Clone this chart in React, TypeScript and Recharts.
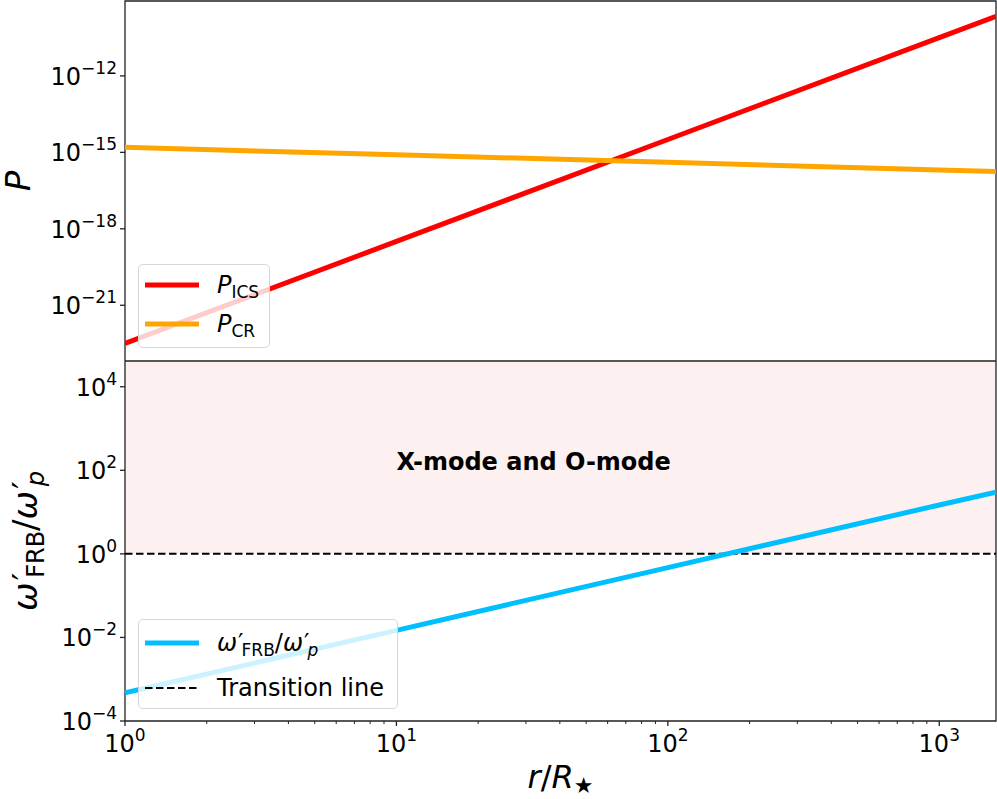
import React from "react";
import {
  LineChart,
  Line,
  XAxis,
  YAxis,
  ReferenceArea,
  ReferenceLine,
  ReferenceDot,
  Legend,
} from "recharts";

// ── Data ──────────────────────────────────────────────────────────────────────

const R = [1, 10, 100, 1000, 1618];
const P_ICS = [3.2e-23, 3.2e-19, 3.2e-15, 3.2e-11, 2.2e-10];
const P_CR = [1.58e-15, 8.0e-16, 4.1e-16, 2.05e-16, 1.78e-16];
const FREQ_RATIO = [4.7e-4, 1.48e-2, 0.47, 14.8, 30];

const X_DOMAIN = [1, 1618];
const X_MAJOR = [1, 10, 100, 1000];
const X_MINOR = [
  2, 3, 4, 5, 6, 7, 8, 9, 20, 30, 40, 50, 60, 70, 80, 90, 200, 300, 400, 500,
  600, 700, 800, 900,
];
const TOP_Y_DOMAIN = [6.5e-24, 8.7e-10];
const TOP_Y_TICKS = [1e-21, 1e-18, 1e-15, 1e-12];
const BOTTOM_Y_DOMAIN = [1e-4, 4.13e4];
const BOTTOM_Y_TICKS = [1e-4, 1e-2, 1, 1e2, 1e4];
const TRANSITION = 1;
const REGION_TEXT_AT = { r: 10, v: 100 };

// ── Styling ───────────────────────────────────────────────────────────────────

const FONT = "DejaVu Sans";
const AXIS = "#222";
const RED = "#ff0000";
const ORANGE = "#ffa500";
const BLUE = "#00bfff";

const topData = R.map((r, i) => ({ r, ics: P_ICS[i], cr: P_CR[i] }));
const bottomData = R.map((r, i) => ({ r, ratio: FREQ_RATIO[i] }));

function expText(v: number) {
  const e = Math.round(Math.log10(v));
  return e < 0 ? `\u2212${-e}` : `${e}`;
}

// ── Ticks ─────────────────────────────────────────────────────────────────────

function YTick(props: any) {
  const { x, y, payload } = props;
  return (
    <g>
      <line x1={x - 5} x2={x} y1={y} y2={y} stroke={AXIS} strokeWidth={1.3} />
      <text x={x - 8} y={y + 9} textAnchor="end" fontSize={24} fontFamily={FONT} fill="#000">
        10
        <tspan dy={-11} fontSize={17}>
          {expText(payload.value)}
        </tspan>
      </text>
    </g>
  );
}

function XTick(props: any) {
  const { x, y, payload } = props;
  const major = X_MAJOR.includes(payload.value);
  return (
    <g>
      <line
        x1={x}
        x2={x}
        y1={y}
        y2={y + (major ? 5 : 3)}
        stroke={AXIS}
        strokeWidth={major ? 1.3 : 1}
      />
      {major && (
        <text x={x} y={y + 31} textAnchor="middle" fontSize={24} fontFamily={FONT} fill="#000">
          10
          <tspan dy={-11} fontSize={17}>
            {expText(payload.value)}
          </tspan>
        </text>
      )}
    </g>
  );
}

// ── Axis labels ───────────────────────────────────────────────────────────────

function PLabel(props: any) {
  const { viewBox } = props;
  const x = viewBox.x + 30;
  const y = viewBox.y + viewBox.height / 2;
  return (
    <text
      x={x}
      y={y}
      transform={`rotate(-90 ${x} ${y})`}
      textAnchor="middle"
      fontSize={34}
      fontStyle="italic"
      fontFamily={FONT}
      fill="#000"
    >
      P
    </text>
  );
}

function RatioLabel(props: any) {
  const { viewBox } = props;
  const x = viewBox.x + 37;
  const y = viewBox.y + viewBox.height / 2;
  return (
    <text
      x={x}
      y={y}
      transform={`rotate(-90 ${x} ${y})`}
      textAnchor="middle"
      fontSize={34}
      fontFamily={FONT}
      fill="#000"
    >
      <tspan fontStyle="italic">ω</tspan>
      <tspan dx={2}>′</tspan>
      <tspan dy={7} dx={-5} fontSize={24}>FRB</tspan>
      <tspan dy={-7}>/</tspan>
      <tspan fontStyle="italic">ω</tspan>
      <tspan dx={2}>′</tspan>
      <tspan dy={7} dx={-5} fontSize={24} fontStyle="italic">p</tspan>
    </text>
  );
}

function RLabel(props: any) {
  const { viewBox } = props;
  return (
    <text
      x={viewBox.x + viewBox.width / 2}
      y={viewBox.y + 67}
      textAnchor="middle"
      fontSize={32}
      fontFamily={FONT}
      fill="#000"
    >
      <tspan fontStyle="italic">r</tspan>
      <tspan>/</tspan>
      <tspan fontStyle="italic">R</tspan>
      <tspan dy={5} fontSize={22}>★</tspan>
    </text>
  );
}

function RegionText(props: any) {
  const { viewBox } = props;
  return (
    <text
      x={viewBox.x + 1}
      y={viewBox.y + 1}
      fontSize={24}
      fontWeight="bold"
      fontFamily={FONT}
      fill="#000"
    >
      X-mode and O-mode
    </text>
  );
}

// ── Legends ───────────────────────────────────────────────────────────────────

const sub: React.CSSProperties = { fontSize: 17, verticalAlign: "-0.3em", lineHeight: 0 };

function LegendRow({
  height,
  color,
  dashed,
  children,
}: {
  height: number;
  color: string;
  dashed?: boolean;
  children: React.ReactNode;
}) {
  return (
    <div style={{ display: "flex", alignItems: "center", height }}>
      <svg width={54} height={10} style={{ marginLeft: 6, flex: "none" }}>
        <line
          x1={0}
          x2={54}
          y1={5}
          y2={5}
          stroke={color}
          strokeWidth={dashed ? 2 : 5}
          strokeDasharray={dashed ? "7.5 3.5" : undefined}
        />
      </svg>
      <span style={{ marginLeft: 18, fontSize: 24, lineHeight: 1, fontFamily: FONT, whiteSpace: "nowrap" }}>
        {children}
      </span>
    </div>
  );
}

const legendBox: React.CSSProperties = {
  boxSizing: "border-box",
  border: "1px solid #d6d6d6",
  borderRadius: 5,
  background: "rgba(255,255,255,0.8)",
};

function TopLegend() {
  return (
    <div style={{ ...legendBox, width: 132, height: 84, paddingTop: 0.5 }}>
      <LegendRow height={39} color={RED}>
        <i>P</i>
        <span style={sub}>ICS</span>
      </LegendRow>
      <LegendRow height={39} color={ORANGE}>
        <i>P</i>
        <span style={sub}>CR</span>
      </LegendRow>
    </div>
  );
}

function BottomLegend() {
  return (
    <div style={{ ...legendBox, width: 260, height: 90 }}>
      <LegendRow height={45} color={BLUE}>
        <i>ω</i>
        <span style={{ marginLeft: 1 }}>′</span>
        <span style={{ ...sub, marginLeft: -2 }}>FRB</span>/<i>ω</i>
        <span style={{ marginLeft: 1 }}>′</span>
        <span style={{ ...sub, marginLeft: -2, fontStyle: "italic" }}>p</span>
      </LegendRow>
      <LegendRow height={45} color="#000" dashed>
        Transition line
      </LegendRow>
    </div>
  );
}

// ── Chart ─────────────────────────────────────────────────────────────────────

export default function App() {
  return (
    <div
      style={{
        position: "absolute",
        left: 0,
        top: 0,
        width: 997,
        height: 799,
        background: "#fff",
        fontFamily: FONT,
      }}
    >
      <div style={{ position: "absolute", left: 0, top: 0 }}>
        <LineChart width={997} height={361} data={topData} margin={{ top: 1, right: 1, bottom: 0, left: 0 }}>
          <XAxis dataKey="r" type="number" scale="log" domain={X_DOMAIN} allowDataOverflow hide />
          <YAxis
            type="number"
            scale="log"
            domain={TOP_Y_DOMAIN}
            allowDataOverflow
            ticks={TOP_Y_TICKS}
            interval={0}
            width={125}
            axisLine={false}
            tickLine={false}
            tickSize={0}
            tickMargin={0}
            tick={(p: any) => <YTick {...p} />}
            label={{ content: (p: any) => <PLabel {...p} /> }}
          />
          <Line
            type="linear"
            dataKey="ics"
            name="P_ICS"
            stroke={RED}
            strokeWidth={5}
            dot={false}
            isAnimationActive={false}
          />
          <Line
            type="linear"
            dataKey="cr"
            name="P_CR"
            stroke={ORANGE}
            strokeWidth={5}
            dot={false}
            isAnimationActive={false}
          />
          <ReferenceArea
            x1={X_DOMAIN[0]}
            x2={X_DOMAIN[1]}
            y1={TOP_Y_DOMAIN[0]}
            y2={TOP_Y_DOMAIN[1]}
            fill="none"
            stroke={AXIS}
            strokeWidth={1.3}
            ifOverflow="visible"
          />
          <Legend
            layout="vertical"
            align="center"
            verticalAlign="middle"
            content={() => <TopLegend />}
            wrapperStyle={{ left: 138, top: 264, width: "auto" }}
          />
        </LineChart>
      </div>

      <div style={{ position: "absolute", left: 0, top: 361 }}>
        <LineChart width={997} height={438} data={bottomData} margin={{ top: 0, right: 1, bottom: 0, left: 0 }}>
          <XAxis
            dataKey="r"
            type="number"
            scale="log"
            domain={X_DOMAIN}
            allowDataOverflow
            ticks={[...X_MAJOR, ...X_MINOR]}
            interval={0}
            height={78}
            axisLine={false}
            tickLine={false}
            tickSize={0}
            tickMargin={0}
            tick={(p: any) => <XTick {...p} />}
            label={{ content: (p: any) => <RLabel {...p} /> }}
          />
          <YAxis
            type="number"
            scale="log"
            domain={BOTTOM_Y_DOMAIN}
            allowDataOverflow
            ticks={BOTTOM_Y_TICKS}
            interval={0}
            width={125}
            axisLine={false}
            tickLine={false}
            tickSize={0}
            tickMargin={0}
            tick={(p: any) => <YTick {...p} />}
            label={{ content: (p: any) => <RatioLabel {...p} /> }}
          />
          <ReferenceArea
            x1={X_DOMAIN[0]}
            x2={X_DOMAIN[1]}
            y1={TRANSITION}
            y2={BOTTOM_Y_DOMAIN[1]}
            fill="#fdf0f0"
            fillOpacity={1}
            stroke="none"
            ifOverflow="visible"
          />
          <ReferenceLine
            y={TRANSITION}
            stroke="#000"
            strokeWidth={2}
            strokeDasharray="7.5 3.5"
            ifOverflow="visible"
          />
          <Line
            type="linear"
            dataKey="ratio"
            name="ratio"
            stroke={BLUE}
            strokeWidth={5}
            dot={false}
            isAnimationActive={false}
          />
          <ReferenceDot
            x={REGION_TEXT_AT.r}
            y={REGION_TEXT_AT.v}
            r={1}
            fill="none"
            stroke="none"
            ifOverflow="visible"
            label={{ content: (p: any) => <RegionText {...p} /> }}
          />
          <ReferenceArea
            x1={X_DOMAIN[0]}
            x2={X_DOMAIN[1]}
            y1={BOTTOM_Y_DOMAIN[0]}
            y2={BOTTOM_Y_DOMAIN[1]}
            fill="none"
            stroke={AXIS}
            strokeWidth={1.3}
            ifOverflow="visible"
          />
          <Legend
            layout="vertical"
            align="center"
            verticalAlign="middle"
            content={() => <BottomLegend />}
            wrapperStyle={{ left: 138, top: 258, width: "auto" }}
          />
        </LineChart>
      </div>
    </div>
  );
}
